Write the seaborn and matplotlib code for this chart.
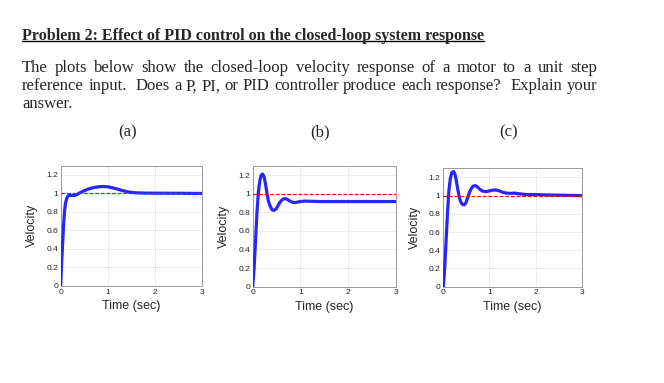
import re
import numpy as np
import pandas as pd
import matplotlib
matplotlib.use("Agg")
import matplotlib.pyplot as plt
from matplotlib.lines import Line2D
import seaborn as sns

# =============================================
# DATA
# =============================================
t_a = [0, 0.02, 0.04, 0.06, 0.08, 0.10, 0.13, 0.16, 0.2, 0.25, 0.3, 0.35, 0.4,
       0.5, 0.6, 0.7, 0.8, 0.9, 1.0, 1.1, 1.2, 1.3, 1.4, 1.5, 1.6, 1.8, 2.0, 2.5, 3.0]
v_a = [0, 0.25, 0.45, 0.65, 0.80, 0.89, 0.95, 0.975, 0.98, 0.978, 0.98, 0.99, 1.005,
       1.03, 1.05, 1.063, 1.072, 1.075, 1.072, 1.062, 1.048, 1.033, 1.02, 1.012, 1.007,
       1.004, 1.003, 1.002, 1.0]

t_b = [0, 0.03, 0.06, 0.09, 0.12, 0.15, 0.18, 0.21, 0.24, 0.27, 0.30, 0.33, 0.37,
       0.41, 0.45, 0.5, 0.55, 0.6, 0.65, 0.7, 0.75, 0.8, 0.85, 0.9, 1.0, 1.1, 1.2,
       1.4, 2.0, 3.0]
v_b = [0, 0.2, 0.5, 0.8, 1.02, 1.14, 1.2, 1.21, 1.18, 1.1, 1.0, 0.92, 0.86,
       0.825, 0.82, 0.84, 0.89, 0.925, 0.945, 0.945, 0.93, 0.915, 0.905, 0.905,
       0.915, 0.92, 0.918, 0.915, 0.915, 0.915]

t_c = [0, 0.03, 0.06, 0.09, 0.12, 0.15, 0.18, 0.22, 0.25, 0.28, 0.31, 0.34, 0.37,
       0.41, 0.45, 0.49, 0.53, 0.57, 0.61, 0.65, 0.69, 0.73, 0.78, 0.84, 0.9, 0.96,
       1.02, 1.08, 1.13, 1.2, 1.28, 1.36, 1.45, 1.55, 1.65, 1.8, 2.0, 2.2, 2.5, 2.8, 3.0]
v_c = [0, 0.2, 0.5, 0.8, 1.05, 1.18, 1.25, 1.265, 1.24, 1.17, 1.08, 1.0, 0.94,
       0.905, 0.898, 0.92, 0.98, 1.04, 1.08, 1.105, 1.11, 1.1, 1.075, 1.052, 1.044, 1.046,
       1.055, 1.061, 1.062, 1.055, 1.038, 1.028, 1.025, 1.027, 1.02, 1.012, 1.012, 1.008,
       1.005, 1.002, 1.0]

panel_titles = ['(a)', '(b)', '(c)']
xticks = [0, 1, 2, 3]
yticks = [0, 0.2, 0.4, 0.6, 0.8, 1, 1.2]
ytick_labels = ['0', '0.2', '0.4', '0.6', '0.8', '1', '1.2']
reference = 1.0

header = "Problem 2: Effect of PID control on the closed-loop system response"
para_lines = [
    "The plots below show the closed-loop velocity response of a motor to a unit step",
    "reference input.  Does a P, PI, or PID controller produce each response?  Explain your",
    "answer.",
]

# =============================================
# FIGURE
# =============================================
W, H = 664, 383
sns.set_style("white")
plt.rcParams['font.family'] = ['Liberation Sans', 'DejaVu Sans']

fig = plt.figure(figsize=(W / 100, H / 100), dpi=100)
fig.patch.set_facecolor('white')

def fx(px):
    return px / W

def fy(py):
    return 1 - py / H

# axes boxes in pixels: left, top, right, bottom
boxes = [(60.7, 165.7, 201.7, 286.0),
         (252.7, 165.7, 395.7, 286.7),
         (443.3, 168.3, 581.7, 286.7)]

curves = [(t_a, v_a), (t_b, v_b), (t_c, v_c)]

for (l, t, r, b), (tt, vv), title in zip(boxes, curves, panel_titles):
    ax = fig.add_axes([fx(l), fy(b), fx(r - l), (b - t) / H])
    df = pd.DataFrame({'Time': tt, 'Velocity': vv})
    sns.lineplot(data=df, x='Time', y='Velocity', ax=ax, color='#2626f5',
                 linewidth=2.3, zorder=3)
    ax.axhline(reference, color='#ee1111', linestyle=(0, (3, 1.5)), linewidth=0.9, zorder=4)
    ax.set_xlim(0, 3)
    ax.set_ylim(0, 1.3)
    ax.set_xticks(xticks)
    ax.set_xticklabels([str(x) for x in xticks])
    ax.set_yticks(yticks)
    ax.set_yticklabels(ytick_labels)
    ax.grid(True, color='#cccccc', linestyle=(0, (1, 1.5)), linewidth=0.6)
    ax.tick_params(direction='in', length=2, width=0.5, labelsize=6,
                   colors='#222222', pad=2)
    for s in ax.spines.values():
        s.set_color('#999999')
        s.set_linewidth(0.7)
    ax.set_xlabel('Time (sec)', fontsize=9, labelpad=3)
    ax.set_ylabel('Velocity', fontsize=9, labelpad=6)
    fig.text(fx((l + r) / 2 - 4), fy(132), title, family='Liberation Serif',
             fontsize=12, ha='center', va='center')

# header, underlined
hdr = fig.text(fx(22), fy(39.5), header, family='Liberation Serif', fontweight='bold',
               fontsize=11.5, ha='left', va='baseline')

# paragraph, justified lines (double spaces kept as wider gaps)
serif = dict(family='Liberation Serif', fontsize=12, va='baseline')
baselines = [72.5, 90.5, 108.5]
fig.canvas.draw()
renderer = fig.canvas.get_renderer()
ext = hdr.get_window_extent(renderer)
fig.add_artist(Line2D([fx(22), ext.x1 / W], [fy(41.2), fy(41.2)],
                      transform=fig.transFigure, color='black', linewidth=1.0))

x_left, x_right = 22, 597
for i, (line, yb) in enumerate(zip(para_lines, baselines)):
    if i == len(para_lines) - 1:
        fig.text(fx(x_left), fy(yb), line, ha='left', **serif)
        continue
    tokens = re.split(r'( +)', line)
    words = tokens[0::2]
    spaces = [len(s) for s in tokens[1::2]]
    texts = [fig.text(0, fy(yb), w, ha='left', **serif) for w in words]
    fig.canvas.draw()
    widths = [tx.get_window_extent(renderer).width for tx in texts]
    unit = ((x_right - x_left) - sum(widths)) / sum(spaces)
    x = x_left
    for k, (tx, w) in enumerate(zip(texts, widths)):
        tx.set_x(fx(x))
        if k < len(spaces):
            x += w + unit * spaces[k]

fig.savefig('out.png', dpi=100, facecolor='white')
